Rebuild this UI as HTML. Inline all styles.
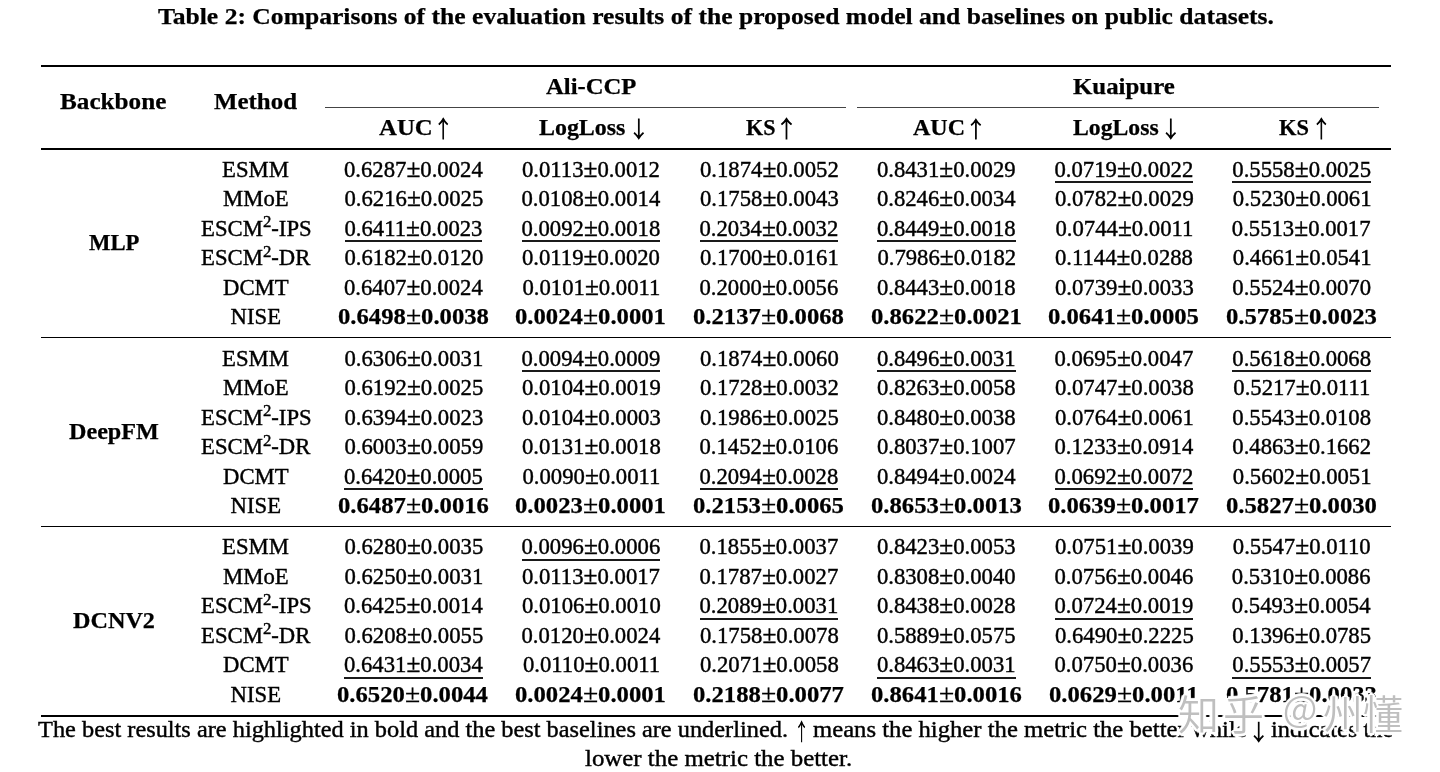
<!DOCTYPE html>
<html><head><meta charset="utf-8"><title>Table 2</title><style>
html,body{margin:0;padding:0;background:#fff;}
body{width:1440px;height:772px;overflow:hidden;position:relative;}
.t{position:absolute;white-space:nowrap;color:#000;font-family:"Liberation Serif","DejaVu Serif",serif;transform-origin:0 50%;}
.r{font-weight:400;-webkit-text-stroke:0.4px #000;}
.b{font-weight:700;-webkit-text-stroke:0.25px #000;}
.pm{font-size:1.12em;line-height:0;}
.b .pm{font-weight:400;}
.u::after{content:"";position:absolute;left:0;right:0;top:22.8px;height:1.7px;background:#1a1a1a;}
.ar{font-weight:400;font-family:"Noto Serif CJK SC","Liberation Serif",serif;-webkit-text-stroke:0.9px #000;}
sup{font-size:0.74em;vertical-align:0;position:relative;top:-0.5em;line-height:0;}
.rule{position:absolute;}
.wm{position:absolute;white-space:nowrap;font-family:"Noto Sans CJK SC","WenQuanYi Zen Hei",sans-serif;font-weight:350;color:#bfbfbf;text-shadow:0 0 1px #fff,2px 0 0 #fff,-2px 0 0 #fff,0 2px 0 #fff,0 -2px 0 #fff,1.5px 1.5px 0 #fff,-1.5px -1.5px 0 #fff,1.5px -1.5px 0 #fff,-1.5px 1.5px 0 #fff,3px 0 1px #fff,-3px 0 1px #fff,0 3px 1px #fff,0 -3px 1px #fff;}
</style></head>
<body>
<div class="rule" style="left:41px;top:64.6px;width:1350.0px;height:2.1px;background:#000"></div>
<div class="rule" style="left:324.5px;top:106.7px;width:521.0px;height:1.0px;background:#444"></div>
<div class="rule" style="left:857.3px;top:106.7px;width:521.4px;height:1.0px;background:#444"></div>
<div class="rule" style="left:41px;top:148.0px;width:1350.0px;height:1.5px;background:#000"></div>
<div class="rule" style="left:41px;top:336.9px;width:1350.0px;height:1.6px;background:#000"></div>
<div class="rule" style="left:41px;top:525.8px;width:1350.0px;height:1.6px;background:#000"></div>
<div class="rule" style="left:41px;top:714.7px;width:1350.0px;height:2.1px;background:#000"></div>
<div class="t r" style="left:222.10px;top:158.60px;font-size:22.70px;line-height:22.70px">ESMM</div>
<div class="t r" style="left:344.00px;top:158.60px;font-size:22.70px;line-height:22.70px">0.6287<span class="pm">±</span>0.0024</div>
<div class="t r" style="left:522.00px;top:158.60px;font-size:22.70px;line-height:22.70px">0.0113<span class="pm">±</span>0.0012</div>
<div class="t r" style="left:700.00px;top:158.60px;font-size:22.70px;line-height:22.70px">0.1874<span class="pm">±</span>0.0052</div>
<div class="t r" style="left:876.90px;top:158.60px;font-size:22.70px;line-height:22.70px">0.8431<span class="pm">±</span>0.0029</div>
<div class="t r u" style="left:1054.50px;top:158.60px;font-size:22.70px;line-height:22.70px">0.0719<span class="pm">±</span>0.0022</div>
<div class="t r u" style="left:1232.30px;top:158.60px;font-size:22.70px;line-height:22.70px">0.5558<span class="pm">±</span>0.0025</div>
<div class="t r" style="left:223.10px;top:188.10px;font-size:22.70px;line-height:22.70px">MMoE</div>
<div class="t r" style="left:344.50px;top:188.10px;font-size:22.70px;line-height:22.70px">0.6216<span class="pm">±</span>0.0025</div>
<div class="t r" style="left:521.50px;top:188.10px;font-size:22.70px;line-height:22.70px">0.0108<span class="pm">±</span>0.0014</div>
<div class="t r" style="left:700.00px;top:188.10px;font-size:22.70px;line-height:22.70px">0.1758<span class="pm">±</span>0.0043</div>
<div class="t r" style="left:876.90px;top:188.10px;font-size:22.70px;line-height:22.70px">0.8246<span class="pm">±</span>0.0034</div>
<div class="t r" style="left:1055.00px;top:188.10px;font-size:22.70px;line-height:22.70px">0.0782<span class="pm">±</span>0.0029</div>
<div class="t r" style="left:1232.80px;top:188.10px;font-size:22.70px;line-height:22.70px">0.5230<span class="pm">±</span>0.0061</div>
<div class="t r" style="left:201.10px;top:217.60px;font-size:22.70px;line-height:22.70px">ESCM<sup>2</sup>-IPS</div>
<div class="t r u" style="left:344.50px;top:217.60px;font-size:22.70px;line-height:22.70px">0.6411<span class="pm">±</span>0.0023</div>
<div class="t r u" style="left:521.50px;top:217.60px;font-size:22.70px;line-height:22.70px">0.0092<span class="pm">±</span>0.0018</div>
<div class="t r u" style="left:699.50px;top:217.60px;font-size:22.70px;line-height:22.70px">0.2034<span class="pm">±</span>0.0032</div>
<div class="t r u" style="left:876.90px;top:217.60px;font-size:22.70px;line-height:22.70px">0.8449<span class="pm">±</span>0.0018</div>
<div class="t r" style="left:1055.50px;top:217.60px;font-size:22.70px;line-height:22.70px">0.0744<span class="pm">±</span>0.0011</div>
<div class="t r" style="left:1231.80px;top:217.60px;font-size:22.70px;line-height:22.70px">0.5513<span class="pm">±</span>0.0017</div>
<div class="t r" style="left:201.10px;top:247.10px;font-size:22.70px;line-height:22.70px">ESCM<sup>2</sup>-DR</div>
<div class="t r" style="left:344.50px;top:247.10px;font-size:22.70px;line-height:22.70px">0.6182<span class="pm">±</span>0.0120</div>
<div class="t r" style="left:522.00px;top:247.10px;font-size:22.70px;line-height:22.70px">0.0119<span class="pm">±</span>0.0020</div>
<div class="t r" style="left:700.00px;top:247.10px;font-size:22.70px;line-height:22.70px">0.1700<span class="pm">±</span>0.0161</div>
<div class="t r" style="left:877.40px;top:247.10px;font-size:22.70px;line-height:22.70px">0.7986<span class="pm">±</span>0.0182</div>
<div class="t r" style="left:1055.00px;top:247.10px;font-size:22.70px;line-height:22.70px">0.1144<span class="pm">±</span>0.0288</div>
<div class="t r" style="left:1232.80px;top:247.10px;font-size:22.70px;line-height:22.70px">0.4661<span class="pm">±</span>0.0541</div>
<div class="t r" style="left:223.10px;top:276.60px;font-size:22.70px;line-height:22.70px">DCMT</div>
<div class="t r" style="left:344.00px;top:276.60px;font-size:22.70px;line-height:22.70px">0.6407<span class="pm">±</span>0.0024</div>
<div class="t r" style="left:522.50px;top:276.60px;font-size:22.70px;line-height:22.70px">0.0101<span class="pm">±</span>0.0011</div>
<div class="t r" style="left:699.50px;top:276.60px;font-size:22.70px;line-height:22.70px">0.2000<span class="pm">±</span>0.0056</div>
<div class="t r" style="left:876.90px;top:276.60px;font-size:22.70px;line-height:22.70px">0.8443<span class="pm">±</span>0.0018</div>
<div class="t r" style="left:1055.00px;top:276.60px;font-size:22.70px;line-height:22.70px">0.0739<span class="pm">±</span>0.0033</div>
<div class="t r" style="left:1232.30px;top:276.60px;font-size:22.70px;line-height:22.70px">0.5524<span class="pm">±</span>0.0070</div>
<div class="t r" style="left:230.60px;top:306.10px;font-size:22.70px;line-height:22.70px">NISE</div>
<div class="t b" style="left:337.88px;top:306.10px;font-size:22.70px;line-height:22.70px;transform:scaleX(1.0880)">0.6498<span class="pm">±</span>0.0038</div>
<div class="t b" style="left:515.43px;top:306.10px;font-size:22.70px;line-height:22.70px;transform:scaleX(1.0880)">0.0024<span class="pm">±</span>0.0001</div>
<div class="t b" style="left:693.43px;top:306.10px;font-size:22.70px;line-height:22.70px;transform:scaleX(1.0880)">0.2137<span class="pm">±</span>0.0068</div>
<div class="t b" style="left:870.81px;top:306.10px;font-size:22.70px;line-height:22.70px;transform:scaleX(1.0880)">0.8622<span class="pm">±</span>0.0021</div>
<div class="t b" style="left:1048.43px;top:306.10px;font-size:22.70px;line-height:22.70px;transform:scaleX(1.0880)">0.0641<span class="pm">±</span>0.0005</div>
<div class="t b" style="left:1226.19px;top:306.10px;font-size:22.70px;line-height:22.70px;transform:scaleX(1.0880)">0.5785<span class="pm">±</span>0.0023</div>
<div class="t b" style="left:89.00px;top:232.21px;font-size:22.70px;line-height:22.70px">MLP</div>
<div class="t r" style="left:222.10px;top:347.50px;font-size:22.70px;line-height:22.70px">ESMM</div>
<div class="t r" style="left:344.50px;top:347.50px;font-size:22.70px;line-height:22.70px">0.6306<span class="pm">±</span>0.0031</div>
<div class="t r u" style="left:521.50px;top:347.50px;font-size:22.70px;line-height:22.70px">0.0094<span class="pm">±</span>0.0009</div>
<div class="t r" style="left:700.00px;top:347.50px;font-size:22.70px;line-height:22.70px">0.1874<span class="pm">±</span>0.0060</div>
<div class="t r u" style="left:876.90px;top:347.50px;font-size:22.70px;line-height:22.70px">0.8496<span class="pm">±</span>0.0031</div>
<div class="t r" style="left:1054.50px;top:347.50px;font-size:22.70px;line-height:22.70px">0.0695<span class="pm">±</span>0.0047</div>
<div class="t r u" style="left:1232.30px;top:347.50px;font-size:22.70px;line-height:22.70px">0.5618<span class="pm">±</span>0.0068</div>
<div class="t r" style="left:223.10px;top:377.00px;font-size:22.70px;line-height:22.70px">MMoE</div>
<div class="t r" style="left:344.50px;top:377.00px;font-size:22.70px;line-height:22.70px">0.6192<span class="pm">±</span>0.0025</div>
<div class="t r" style="left:522.00px;top:377.00px;font-size:22.70px;line-height:22.70px">0.0104<span class="pm">±</span>0.0019</div>
<div class="t r" style="left:700.00px;top:377.00px;font-size:22.70px;line-height:22.70px">0.1728<span class="pm">±</span>0.0032</div>
<div class="t r" style="left:876.90px;top:377.00px;font-size:22.70px;line-height:22.70px">0.8263<span class="pm">±</span>0.0058</div>
<div class="t r" style="left:1055.00px;top:377.00px;font-size:22.70px;line-height:22.70px">0.0747<span class="pm">±</span>0.0038</div>
<div class="t r" style="left:1233.30px;top:377.00px;font-size:22.70px;line-height:22.70px">0.5217<span class="pm">±</span>0.0111</div>
<div class="t r" style="left:201.10px;top:406.50px;font-size:22.70px;line-height:22.70px">ESCM<sup>2</sup>-IPS</div>
<div class="t r" style="left:344.50px;top:406.50px;font-size:22.70px;line-height:22.70px">0.6394<span class="pm">±</span>0.0023</div>
<div class="t r" style="left:522.00px;top:406.50px;font-size:22.70px;line-height:22.70px">0.0104<span class="pm">±</span>0.0003</div>
<div class="t r" style="left:700.00px;top:406.50px;font-size:22.70px;line-height:22.70px">0.1986<span class="pm">±</span>0.0025</div>
<div class="t r" style="left:876.90px;top:406.50px;font-size:22.70px;line-height:22.70px">0.8480<span class="pm">±</span>0.0038</div>
<div class="t r" style="left:1055.00px;top:406.50px;font-size:22.70px;line-height:22.70px">0.0764<span class="pm">±</span>0.0061</div>
<div class="t r" style="left:1232.30px;top:406.50px;font-size:22.70px;line-height:22.70px">0.5543<span class="pm">±</span>0.0108</div>
<div class="t r" style="left:201.10px;top:436.00px;font-size:22.70px;line-height:22.70px">ESCM<sup>2</sup>-DR</div>
<div class="t r" style="left:344.50px;top:436.00px;font-size:22.70px;line-height:22.70px">0.6003<span class="pm">±</span>0.0059</div>
<div class="t r" style="left:522.00px;top:436.00px;font-size:22.70px;line-height:22.70px">0.0131<span class="pm">±</span>0.0018</div>
<div class="t r" style="left:699.50px;top:436.00px;font-size:22.70px;line-height:22.70px">0.1452<span class="pm">±</span>0.0106</div>
<div class="t r" style="left:876.90px;top:436.00px;font-size:22.70px;line-height:22.70px">0.8037<span class="pm">±</span>0.1007</div>
<div class="t r" style="left:1054.50px;top:436.00px;font-size:22.70px;line-height:22.70px">0.1233<span class="pm">±</span>0.0914</div>
<div class="t r" style="left:1232.30px;top:436.00px;font-size:22.70px;line-height:22.70px">0.4863<span class="pm">±</span>0.1662</div>
<div class="t r" style="left:223.10px;top:465.50px;font-size:22.70px;line-height:22.70px">DCMT</div>
<div class="t r u" style="left:344.00px;top:465.50px;font-size:22.70px;line-height:22.70px">0.6420<span class="pm">±</span>0.0005</div>
<div class="t r" style="left:522.50px;top:465.50px;font-size:22.70px;line-height:22.70px">0.0090<span class="pm">±</span>0.0011</div>
<div class="t r u" style="left:699.50px;top:465.50px;font-size:22.70px;line-height:22.70px">0.2094<span class="pm">±</span>0.0028</div>
<div class="t r" style="left:876.90px;top:465.50px;font-size:22.70px;line-height:22.70px">0.8494<span class="pm">±</span>0.0024</div>
<div class="t r u" style="left:1054.50px;top:465.50px;font-size:22.70px;line-height:22.70px">0.0692<span class="pm">±</span>0.0072</div>
<div class="t r" style="left:1232.80px;top:465.50px;font-size:22.70px;line-height:22.70px">0.5602<span class="pm">±</span>0.0051</div>
<div class="t r" style="left:230.60px;top:495.00px;font-size:22.70px;line-height:22.70px">NISE</div>
<div class="t b" style="left:337.88px;top:495.00px;font-size:22.70px;line-height:22.70px;transform:scaleX(1.0880)">0.6487<span class="pm">±</span>0.0016</div>
<div class="t b" style="left:515.43px;top:495.00px;font-size:22.70px;line-height:22.70px;transform:scaleX(1.0880)">0.0023<span class="pm">±</span>0.0001</div>
<div class="t b" style="left:693.43px;top:495.00px;font-size:22.70px;line-height:22.70px;transform:scaleX(1.0880)">0.2153<span class="pm">±</span>0.0065</div>
<div class="t b" style="left:871.27px;top:495.00px;font-size:22.70px;line-height:22.70px;transform:scaleX(1.0880)">0.8653<span class="pm">±</span>0.0013</div>
<div class="t b" style="left:1048.38px;top:495.00px;font-size:22.70px;line-height:22.70px;transform:scaleX(1.0880)">0.0639<span class="pm">±</span>0.0017</div>
<div class="t b" style="left:1226.19px;top:495.00px;font-size:22.70px;line-height:22.70px;transform:scaleX(1.0880)">0.5827<span class="pm">±</span>0.0030</div>
<div class="t b" style="left:68.92px;top:420.71px;font-size:22.70px;line-height:22.70px;transform:scaleX(1.0643)">DeepFM</div>
<div class="t r" style="left:222.10px;top:536.31px;font-size:22.70px;line-height:22.70px">ESMM</div>
<div class="t r" style="left:344.50px;top:536.31px;font-size:22.70px;line-height:22.70px">0.6280<span class="pm">±</span>0.0035</div>
<div class="t r u" style="left:521.50px;top:536.31px;font-size:22.70px;line-height:22.70px">0.0096<span class="pm">±</span>0.0006</div>
<div class="t r" style="left:699.50px;top:536.31px;font-size:22.70px;line-height:22.70px">0.1855<span class="pm">±</span>0.0037</div>
<div class="t r" style="left:876.90px;top:536.31px;font-size:22.70px;line-height:22.70px">0.8423<span class="pm">±</span>0.0053</div>
<div class="t r" style="left:1055.00px;top:536.31px;font-size:22.70px;line-height:22.70px">0.0751<span class="pm">±</span>0.0039</div>
<div class="t r" style="left:1232.80px;top:536.31px;font-size:22.70px;line-height:22.70px">0.5547<span class="pm">±</span>0.0110</div>
<div class="t r" style="left:223.10px;top:565.81px;font-size:22.70px;line-height:22.70px">MMoE</div>
<div class="t r" style="left:344.50px;top:565.81px;font-size:22.70px;line-height:22.70px">0.6250<span class="pm">±</span>0.0031</div>
<div class="t r" style="left:522.00px;top:565.81px;font-size:22.70px;line-height:22.70px">0.0113<span class="pm">±</span>0.0017</div>
<div class="t r" style="left:699.50px;top:565.81px;font-size:22.70px;line-height:22.70px">0.1787<span class="pm">±</span>0.0027</div>
<div class="t r" style="left:876.90px;top:565.81px;font-size:22.70px;line-height:22.70px">0.8308<span class="pm">±</span>0.0040</div>
<div class="t r" style="left:1054.50px;top:565.81px;font-size:22.70px;line-height:22.70px">0.0756<span class="pm">±</span>0.0046</div>
<div class="t r" style="left:1231.80px;top:565.81px;font-size:22.70px;line-height:22.70px">0.5310<span class="pm">±</span>0.0086</div>
<div class="t r" style="left:201.10px;top:595.31px;font-size:22.70px;line-height:22.70px">ESCM<sup>2</sup>-IPS</div>
<div class="t r" style="left:344.00px;top:595.31px;font-size:22.70px;line-height:22.70px">0.6425<span class="pm">±</span>0.0014</div>
<div class="t r" style="left:522.00px;top:595.31px;font-size:22.70px;line-height:22.70px">0.0106<span class="pm">±</span>0.0010</div>
<div class="t r u" style="left:699.50px;top:595.31px;font-size:22.70px;line-height:22.70px">0.2089<span class="pm">±</span>0.0031</div>
<div class="t r" style="left:876.90px;top:595.31px;font-size:22.70px;line-height:22.70px">0.8438<span class="pm">±</span>0.0028</div>
<div class="t r u" style="left:1054.50px;top:595.31px;font-size:22.70px;line-height:22.70px">0.0724<span class="pm">±</span>0.0019</div>
<div class="t r" style="left:1231.80px;top:595.31px;font-size:22.70px;line-height:22.70px">0.5493<span class="pm">±</span>0.0054</div>
<div class="t r" style="left:201.10px;top:624.81px;font-size:22.70px;line-height:22.70px">ESCM<sup>2</sup>-DR</div>
<div class="t r" style="left:344.50px;top:624.81px;font-size:22.70px;line-height:22.70px">0.6208<span class="pm">±</span>0.0055</div>
<div class="t r" style="left:521.50px;top:624.81px;font-size:22.70px;line-height:22.70px">0.0120<span class="pm">±</span>0.0024</div>
<div class="t r" style="left:700.00px;top:624.81px;font-size:22.70px;line-height:22.70px">0.1758<span class="pm">±</span>0.0078</div>
<div class="t r" style="left:876.90px;top:624.81px;font-size:22.70px;line-height:22.70px">0.5889<span class="pm">±</span>0.0575</div>
<div class="t r" style="left:1055.00px;top:624.81px;font-size:22.70px;line-height:22.70px">0.6490<span class="pm">±</span>0.2225</div>
<div class="t r" style="left:1232.30px;top:624.81px;font-size:22.70px;line-height:22.70px">0.1396<span class="pm">±</span>0.0785</div>
<div class="t r" style="left:223.10px;top:654.31px;font-size:22.70px;line-height:22.70px">DCMT</div>
<div class="t r u" style="left:344.00px;top:654.31px;font-size:22.70px;line-height:22.70px">0.6431<span class="pm">±</span>0.0034</div>
<div class="t r" style="left:523.00px;top:654.31px;font-size:22.70px;line-height:22.70px">0.0110<span class="pm">±</span>0.0011</div>
<div class="t r" style="left:700.00px;top:654.31px;font-size:22.70px;line-height:22.70px">0.2071<span class="pm">±</span>0.0058</div>
<div class="t r u" style="left:876.90px;top:654.31px;font-size:22.70px;line-height:22.70px">0.8463<span class="pm">±</span>0.0031</div>
<div class="t r" style="left:1054.50px;top:654.31px;font-size:22.70px;line-height:22.70px">0.0750<span class="pm">±</span>0.0036</div>
<div class="t r u" style="left:1232.30px;top:654.31px;font-size:22.70px;line-height:22.70px">0.5553<span class="pm">±</span>0.0057</div>
<div class="t r" style="left:230.60px;top:683.81px;font-size:22.70px;line-height:22.70px">NISE</div>
<div class="t b" style="left:337.38px;top:683.81px;font-size:22.70px;line-height:22.70px;transform:scaleX(1.0880)">0.6520<span class="pm">±</span>0.0044</div>
<div class="t b" style="left:515.43px;top:683.81px;font-size:22.70px;line-height:22.70px;transform:scaleX(1.0880)">0.0024<span class="pm">±</span>0.0001</div>
<div class="t b" style="left:693.38px;top:683.81px;font-size:22.70px;line-height:22.70px;transform:scaleX(1.0880)">0.2188<span class="pm">±</span>0.0077</div>
<div class="t b" style="left:871.27px;top:683.81px;font-size:22.70px;line-height:22.70px;transform:scaleX(1.0880)">0.8641<span class="pm">±</span>0.0016</div>
<div class="t b" style="left:1049.47px;top:683.81px;font-size:22.70px;line-height:22.70px;transform:scaleX(1.0880)">0.0629<span class="pm">±</span>0.0011</div>
<div class="t b" style="left:1226.19px;top:683.81px;font-size:22.70px;line-height:22.70px;transform:scaleX(1.0880)">0.5781<span class="pm">±</span>0.0033</div>
<div class="t b" style="left:73.00px;top:609.91px;font-size:22.70px;line-height:22.70px;transform:scaleX(1.0658)">DCNV2</div>
<div class="t b" style="left:60.38px;top:90.91px;font-size:22.70px;line-height:22.70px;transform:scaleX(1.1095)">Backbone</div>
<div class="t b" style="left:213.92px;top:90.91px;font-size:22.70px;line-height:22.70px;transform:scaleX(1.0974)">Method</div>
<div class="t b" style="left:546.31px;top:75.81px;font-size:22.70px;line-height:22.70px;transform:scaleX(1.0867)">Ali-CCP</div>
<div class="t b" style="left:1073.14px;top:75.81px;font-size:22.70px;line-height:22.70px;transform:scaleX(1.0958)">Kuaipure</div>
<div class="t b" style="left:379.00px;top:116.60px;font-size:22.70px;line-height:22.70px;transform:scaleX(1.0919)">AUC</div>
<div class="t ar" style="left:433.92px;top:116.46px;font-size:22.66px;line-height:22.66px;transform:scaleX(0.8167)">↑</div>
<div class="t b" style="left:539.47px;top:116.60px;font-size:22.70px;line-height:22.70px;transform:scaleX(1.0543)">LogLoss</div>
<div class="t ar" style="left:629.24px;top:117.43px;font-size:21.72px;line-height:21.72px;transform:scaleX(0.9013)">↓</div>
<div class="t b" style="left:745.50px;top:116.60px;font-size:22.70px;line-height:22.70px;transform:scaleX(0.9733)">KS</div>
<div class="t ar" style="left:775.96px;top:116.46px;font-size:22.66px;line-height:22.66px;transform:scaleX(0.9259)">↑</div>
<div class="t b" style="left:913.08px;top:116.60px;font-size:22.70px;line-height:22.70px;transform:scaleX(1.0583)">AUC</div>
<div class="t ar" style="left:965.87px;top:117.43px;font-size:21.72px;line-height:21.72px;transform:scaleX(0.9091)">↑</div>
<div class="t b" style="left:1072.77px;top:116.60px;font-size:22.70px;line-height:22.70px;transform:scaleX(1.0446)">LogLoss</div>
<div class="t ar" style="left:1161.49px;top:117.43px;font-size:21.72px;line-height:21.72px;transform:scaleX(0.9013)">↓</div>
<div class="t b" style="left:1279.08px;top:116.60px;font-size:22.70px;line-height:22.70px;transform:scaleX(0.9878)">KS</div>
<div class="t ar" style="left:1311.59px;top:116.46px;font-size:22.66px;line-height:22.66px;transform:scaleX(0.8264)">↑</div>
<div class="t b" style="left:157.92px;top:4.50px;font-size:23.80px;line-height:23.80px;transform:scaleX(1.0756)">Table 2: Comparisons of the evaluation results of the proposed model and baselines on public datasets.</div>
<div class="t r" style="left:38.23px;top:718.81px;font-size:22.70px;line-height:22.70px;transform:scaleX(1.0734)">The best results are highlighted in bold and the best baselines are underlined.</div>
<div class="t ar" style="left:795.07px;top:718.67px;font-size:22.45px;line-height:22.45px;transform:scaleX(0.5868)">↑</div>
<div class="t r" style="left:813.46px;top:718.81px;font-size:22.70px;line-height:22.70px;transform:scaleX(1.0874)">means the higher the metric the better while</div>
<div class="t ar" style="left:1249.38px;top:719.62px;font-size:21.52px;line-height:21.52px;transform:scaleX(0.9013)">↓</div>
<div class="t r" style="left:1271.08px;top:718.81px;font-size:22.70px;line-height:22.70px;transform:scaleX(1.0708)">indicates the</div>
<div class="t r" style="left:584.76px;top:747.60px;font-size:22.70px;line-height:22.70px;transform:scaleX(1.0959)">lower the metric the better.</div>
<div class="wm" style="left:1178px;top:692px;font-size:41px;line-height:41px;letter-spacing:4px">知乎</div>
<div class="wm" style="left:1282.7px;top:688px;font-size:37px;line-height:37px">@</div>
<div class="wm" style="left:1323px;top:692px;font-size:40px;line-height:40px">州懂</div>

</body></html>
